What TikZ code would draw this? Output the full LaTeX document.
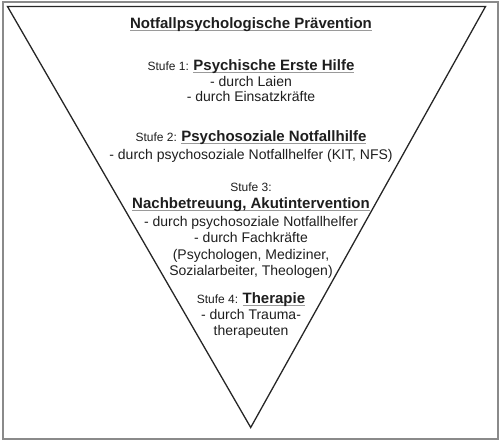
\documentclass[tikz,border=0pt]{standalone}
\usepackage{fontspec}
\setmainfont{Liberation Sans}
\definecolor{ulgray}{HTML}{9A9A9A}
\definecolor{txt}{HTML}{1E1E1E}
\definecolor{framegray}{HTML}{8A8A8A}
\newsavebox\myulbox
\newcommand\stf[1]{{\fontsize{12}{14}\selectfont #1}}
\newcommand\bhd[1]{\sbox\myulbox{\fontsize{15}{17}\selectfont\bfseries #1}\rlap{\textcolor{ulgray}{\rule[-2.3pt]{\wd\myulbox}{0.8pt}}}\usebox\myulbox}
\begin{document}
\begin{tikzpicture}[x=1pt,y=-1pt,
  lbl/.style={anchor=base,inner sep=0pt,text=txt,font=\fontsize{14}{16}\selectfont},
  tri/.style={draw=black!85,line width=1.3pt,line join=miter},
  framebox/.style={draw=framegray,line width=2pt}]
\useasboundingbox (0,0) rectangle (502,441);
\draw[framebox] (2.5,2.5) rectangle (497.5,438.5);
\coordinate (tl) at (7.5,6.5);
\coordinate (tr) at (485.5,6.5);
\coordinate (ap) at (250.7,427.5);
\draw[tri] (tl) -- (tr) -- (ap) -- cycle;
\node[lbl] (t0) at (251,29) {\bhd{Notfallpsychologische Prävention}};
\node[lbl] (s1) at (251,70.5) {\stf{Stufe 1: }\bhd{Psychische Erste Hilfe}};
\node[lbl] (s1a) at (251,86) {- durch Laien};
\node[lbl] (s1b) at (251,101.5) {- durch Einsatzkräfte};
\node[lbl] (s2) at (251,141.5) {\stf{Stufe 2: }\bhd{Psychosoziale Notfallhilfe}};
\node[lbl] (s2a) at (251,159) {- durch psychosoziale Notfallhelfer (KIT, NFS)};
\node[lbl] (s3) at (251,191) {\stf{Stufe 3:}};
\node[lbl] (s3h) at (251,208) {\bhd{Nachbetreuung, Akutintervention}};
\node[lbl] (s3a) at (251,226) {- durch psychosoziale Notfallhelfer};
\node[lbl] (s3b) at (251,242.5) {- durch Fachkräfte};
\node[lbl] (s3c) at (251,259) {(Psychologen, Mediziner,};
\node[lbl] (s3d) at (251,275.5) {Sozialarbeiter, Theologen)};
\node[lbl] (s4) at (251,303.5) {\stf{Stufe 4: }\bhd{Therapie}};
\node[lbl] (s4a) at (251,319.5) {- durch Trauma-};
\node[lbl] (s4b) at (251,335) {therapeuten};
\end{tikzpicture}
\end{document}
